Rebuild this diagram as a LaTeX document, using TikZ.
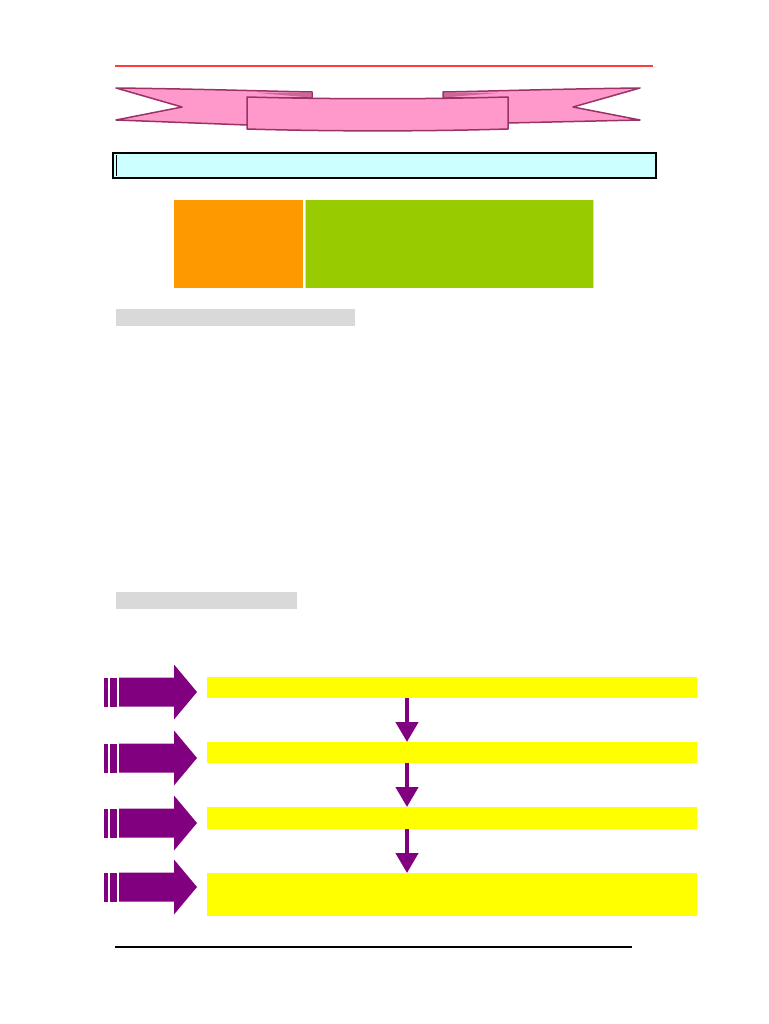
\documentclass[tikz,border=0pt]{standalone}
\usepackage{tikz}
\usetikzlibrary{arrows.meta}

\definecolor{ribbonpink}{HTML}{FF99CC}
\definecolor{ribbonedge}{HTML}{993366}
\definecolor{ribbonfold}{HTML}{CC6699}
\definecolor{lightcyan}{HTML}{CCFFFF}
\definecolor{boxorange}{HTML}{FF9900}
\definecolor{boxgreen}{HTML}{99CC00}
\definecolor{bargray}{HTML}{D9D9D9}
\definecolor{stepyellow}{HTML}{FFFF00}
\definecolor{stepviolet}{HTML}{800080}
\definecolor{rulered}{HTML}{FF3B3B}

\tikzset{
  block/.style={rectangle,inner sep=0pt,outer sep=0pt},
  stepbar/.style={block,fill=stepyellow,minimum width=490pt},
  graybar/.style={block,fill=bargray,minimum height=17pt},
  ribbon/.style={fill=ribbonpink,draw=ribbonedge,line width=1.5pt,line join=round},
  downarrow/.style={stepviolet,line width=4.5pt,-{Triangle[length=20pt,width=22pt]}},
  bigarrow/.pic={
    \fill[stepviolet] (0,-14.5) rectangle (4,14.5);
    \fill[stepviolet] (6,-14.5) rectangle (13,14.5);
    \fill[stepviolet] (15,-14.5) -- (70,-14.5) -- (70,-27.5) -- (93,0)
      -- (70,27.5) -- (70,14.5) -- (15,14.5) -- cycle;
  }
}

\begin{document}
\begin{tikzpicture}[x=1pt,y=-1pt]
        \useasboundingbox (0,0) rectangle (768,1024);

        \draw[rulered,line width=1.2pt] (115,66) -- (653,66);

        \draw[ribbon] (247,125) -- (116,120) -- (182,107) -- (116,88) .. controls (200,89) and (260,91) .. (312,92) -- (312,98) -- (247,98);
        \draw[ribbon] (508,123) -- (640,120) -- (573,107) -- (640,88) .. controls (556,89) and (496,91) .. (443,92) -- (443,98) -- (508,98);
        \fill[ribbonfold] (258,93) -- (311,92.5) -- (311,97.5) -- cycle;
        \fill[ribbonfold] (444,92.5) -- (497,93) -- (444,97.5) -- cycle;
        \draw[ribbon] (247,97) .. controls (330,99.3) and (425,99.3) .. (508,97)
          -- (508,129) .. controls (425,131.5) and (330,131.5) .. (247,129) -- cycle;

        \node[block,draw=black,line width=1.5pt,fill=lightcyan,minimum width=543pt,minimum height=25pt] (title) at (384.5,165.5) {};
        \draw[black,line width=0.6pt] (116.5,155) -- (116.5,176);

        \node[block,fill=boxorange,minimum width=129pt,minimum height=88pt] (left) at (238.5,244) {};
        \node[block,fill=boxgreen,minimum width=289pt,minimum height=88pt] (right) at (449.5,244) {};
        \draw[boxgreen!40,line width=0.8pt] (right.north west) -- (right.south west);
        \draw[boxgreen!40,line width=0.8pt] ([xshift=-1pt]right.north east) -- ([xshift=-1pt]right.south east);

        \node[graybar,minimum width=239pt] (head1) at (235.5,317.5) {};
        \node[graybar,minimum width=181pt] (head2) at (206.5,600.5) {};

        \node[stepbar,minimum height=21pt] (s1) at (452,687.5) {};
        \node[stepbar,minimum height=21pt] (s2) at (452,752.5) {};
        \node[stepbar,minimum height=22pt] (s3) at (452,818) {};
        \node[stepbar,minimum height=43pt] (s4) at (452,894.5) {};

        \draw[downarrow] ([xshift=-45pt]s1.south) -- ([xshift=-45pt]s2.north);
        \draw[downarrow] ([xshift=-45pt]s2.south) -- ([xshift=-45pt]s3.north);
        \draw[downarrow] ([xshift=-45pt]s3.south) -- ([xshift=-45pt]s4.north);

        \pic at (104,692) {bigarrow};
        \pic at (104,758) {bigarrow};
        \pic at (104,823) {bigarrow};
        \pic at (104,887) {bigarrow};

        \draw[black,line width=1.2pt] (115,947) -- (632,947);
    \end{tikzpicture}
\end{document}
